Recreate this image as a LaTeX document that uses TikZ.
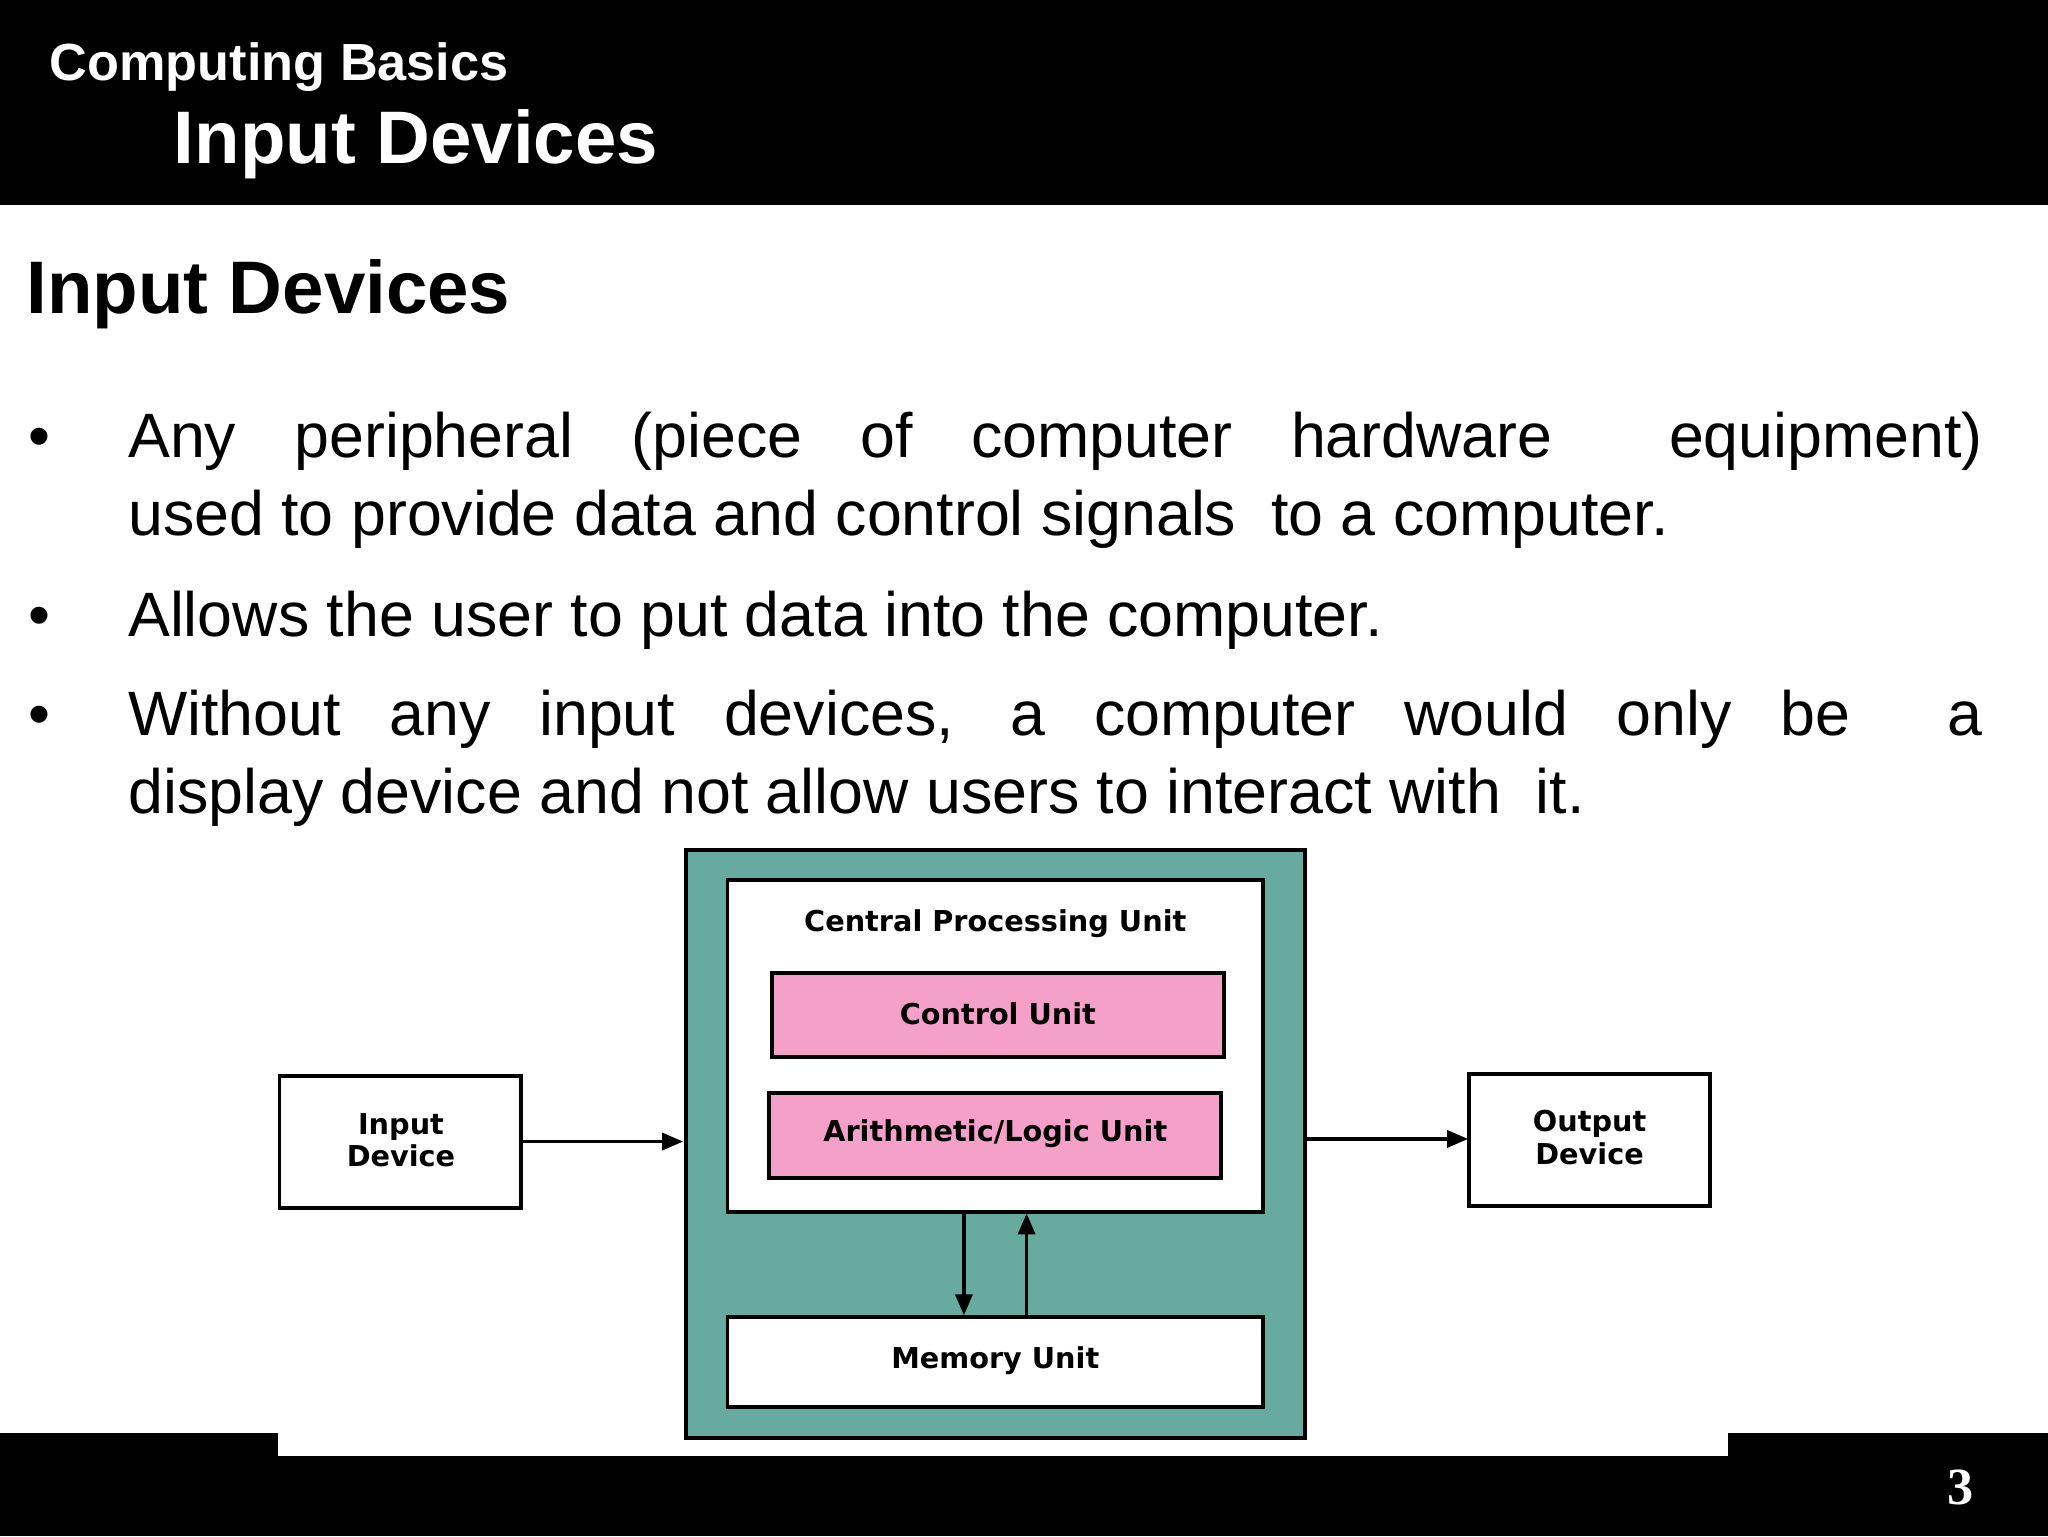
\documentclass[tikz,border=0pt]{standalone}
\usepackage{fontspec}
\setmainfont{Liberation Sans}
\newfontfamily\djsans{DejaVu Sans}
\newfontfamily\serifnum{Liberation Serif}
\usetikzlibrary{arrows.meta}
\definecolor{teal1}{HTML}{66AAA0}
\definecolor{pink1}{HTML}{F5A0C8}
\begin{document}
\begin{tikzpicture}[x=1pt,y=-1pt,
  box/.style={draw=black,line width=3pt,inner sep=0pt},
  lbl/.style={font=\djsans\bfseries\fontsize{22}{26}\selectfont,align=center},
  body/.style={anchor=base west,inner sep=0pt,font=\fontsize{48}{56}\selectfont},
  arr/.style={line width=2.5pt,-{Triangle[length=16pt,width=13pt]}}]
\useasboundingbox (0,0) rectangle (1568,1176);
\fill[white] (0,0) rectangle (1568,1176);
\fill[black] (0,0) rectangle (1568,157);
\fill[black] (0,1097) rectangle (1568,1176);
\fill[white] (213,1090) rectangle (1323,1115);
\node[anchor=base west,inner sep=0pt,text=white,font=\bfseries\fontsize{40}{44}\selectfont] (t1) at (38,62) {Computing Basics};
\node[anchor=base west,inner sep=0pt,text=white,font=\bfseries\fontsize{57}{62}\selectfont] (t2) at (133,125) {Input Devices};
\node[anchor=base west,inner sep=0pt,font=\bfseries\fontsize{57}{62}\selectfont] (h) at (20,240) {Input Devices};
\foreach \y/\n in {350/b1,487/b2,563/b3}{\node[body] (\n) at (22,\y) {\textbullet};}
\node[body] (l1) at (98,350) {\makebox[1420pt][s]{Any peripheral (piece of computer hardware \ equipment)}};
\node[body] (l2) at (98,410) {used to provide data and control signals\ \ to a computer.};
\node[body] (l3) at (98,487) {Allows the user to put data into the computer.};
\node[body] (l4) at (98,563) {\makebox[1420pt][s]{Without any input devices, a computer would only be \ a}};
\node[body] (l5) at (98,623) {display device and not allow users to interact with\ \ it.};
% diagram
\draw[box,fill=teal1] (525,651) rectangle (999,1101);
\draw[box,fill=white] (557,674) rectangle (967,928);
\node[lbl] (cpu) at (762,707) {Central Processing Unit};
\draw[box,fill=pink1] (591,745) rectangle (937,809);
\node[lbl] (cu) at (764,776) {Control Unit};
\draw[box,fill=pink1] (589,837) rectangle (935,902);
\node[lbl] (alu) at (762,868) {Arithmetic/Logic Unit};
\draw[box,fill=white] (557,1008) rectangle (967,1077);
\node[lbl] (mem) at (762,1042) {Memory Unit};
\draw[box,fill=white] (214,824) rectangle (399,925);
\node[lbl,font=\djsans\bfseries\fontsize{22}{25}\selectfont] (in) at (307,873) {Input\\Device};
\draw[box,fill=white] (1125,822) rectangle (1309,923);
\node[lbl,font=\djsans\bfseries\fontsize{22}{25}\selectfont] (out) at (1217,871) {Output\\Device};
\coordinate (a1) at (399,874); \coordinate (a2) at (523,874);
\coordinate (b1) at (999,872); \coordinate (b2) at (1124,872);
\coordinate (c1) at (738,928); \coordinate (c2) at (738,1007);
\coordinate (d1) at (786,1008); \coordinate (d2) at (786,929);
\draw[arr] (a1) -- (a2);
\draw[arr] (b1) -- (b2);
\draw[arr] (c1) -- (c2);
\draw[arr] (d1) -- (d2);
\node[anchor=base,inner sep=0pt,text=white,font=\serifnum\bfseries\fontsize{40}{44}\selectfont] (pn) at (1501,1152) {3};
\end{tikzpicture}
\end{document}
